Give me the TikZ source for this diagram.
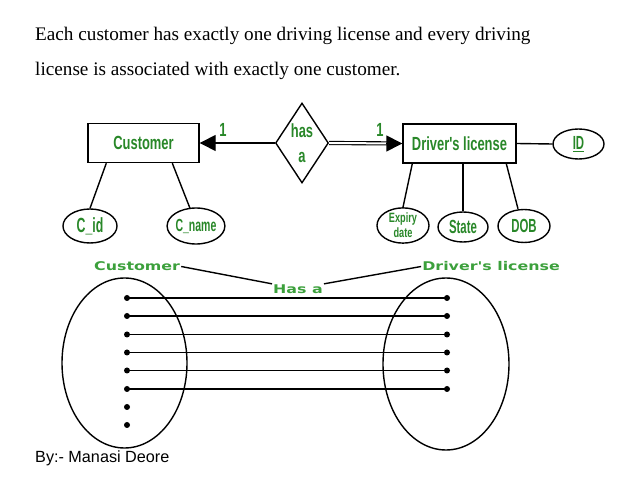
\documentclass[tikz,border=0pt]{standalone}
\usepackage{fontspec}
\setmainfont{Liberation Serif}
\newfontfamily\narrowsans[FakeStretch=0.68]{Liberation Sans}
\newfontfamily\attrsans[FakeStretch=0.6]{Liberation Sans}
\newfontfamily\widesans[FakeStretch=1.32]{DejaVu Sans}
\newfontfamily\plainsans{Liberation Sans}
\usetikzlibrary{shapes.geometric,arrows.meta,calc}
\definecolor{ergreen}{RGB}{40,135,40}
\definecolor{lgreen}{RGB}{60,160,60}
\tikzset{
  entity/.style={draw,line width=1.4pt,minimum width=111pt,minimum height=39pt,inner sep=0pt,font=\narrowsans\bfseries\fontsize{19}{21}\selectfont,text=ergreen},
  attr/.style={draw,line width=1.4pt,ellipse,inner sep=0pt,font=\attrsans\bfseries\fontsize{19}{20}\selectfont,text=ergreen},
  card/.style={font=\narrowsans\bfseries\fontsize{19}{20}\selectfont,text=ergreen},
  link/.style={line width=1.4pt},
  bigtip/.style={-{Triangle[length=16pt,width=16pt]}},
  setlabel/.style={font=\widesans\bfseries\fontsize{12}{13}\selectfont,text=lgreen,inner sep=1pt},
  dot/.style={circle,fill=black,inner sep=0pt,minimum size=6pt},
  title/.style={anchor=base west,inner sep=0pt,font=\fontsize{19.2}{22}\selectfont}
}
\begin{document}
\begin{tikzpicture}[x=1pt,y=-1pt]
\useasboundingbox (0,0) rectangle (638,478);
% title
\node[title] (t1) at (35,41) {Each customer has exactly one driving license and every driving};
\node[title] (t2) at (35,76) {license is associated with exactly one customer.};
% ER diagram
\node[entity] (cust) at (143.5,143) {Customer};
\node[entity,minimum width=113pt] (dl) at (459.5,143.5) {Driver's license};
\node[draw,line width=1.4pt,diamond,inner sep=0pt,minimum width=53pt,minimum height=80pt,aspect=0.66,font=\narrowsans\bfseries\fontsize{19}{25}\selectfont,text=ergreen,align=center] (has) at (302,143) {has\\a};
\draw[link,bigtip] (has.west) -- (cust.east);
\node[card] (c1) at (223,130) {1};
\draw[line width=1.1pt,double,double distance=2pt,shorten >=12pt] (has.east) -- (dl.west);
\coordinate (dltip) at ($(dl.west)+(-16,0)$);
\draw[link,bigtip] (dltip) -- (dl.west);
\node[card] (c2) at (380,130) {1};
\node[attr,minimum width=51pt,minimum height=30pt] (id) at (578.5,144) {\underline{ID}};
\draw[link] (dl.east) -- (id.west);
\node[attr,minimum width=54pt,minimum height=34pt,font=\attrsans\bfseries\fontsize{20.5}{20}\selectfont] (cid) at (90,226) {C\_id};
\node[attr,minimum width=48pt,minimum height=36pt,font=\attrsans\bfseries\fontsize{17.5}{18}\selectfont] (cname) at (196,226) {C\_name};
\draw[link] ($(cust.south west)+(19,0)$) -- (cid.north);
\draw[link] ($(cust.south west)+(85,0)$) -- ($(cname.north)+(-6,1)$);
\node[attr,minimum width=52pt,minimum height=31pt,align=center,font=\narrowsans\bfseries\fontsize{13.5}{15}\selectfont] (exp) at (403,225.5) {Expiry\\date};
\node[attr,minimum width=50pt,minimum height=30pt] (state) at (463,227) {State};
\node[attr,minimum width=52pt,minimum height=33pt] (dob) at (524,226) {DOB};
\draw[link] ($(dl.south west)+(10,0)$) -- (exp.north);
\draw[link] (dl.south -| state.north) -- (state.north);
\draw[link] ($(dl.south west)+(104,0)$) -- ($(dob.north)+(-6,0)$);
% set diagram
\node[setlabel,anchor=west] (sc) at (93,266.5) {Customer};
\node[setlabel] (sh) at (298,289.5) {Has a};
\node[setlabel,anchor=east] (sd) at (561,266.5) {Driver's license};
\draw[link] (sc.east) -- (sh.north west);
\draw[link] (sh.north east) -- (sd.west);
\node[draw,line width=1.4pt,ellipse,minimum width=125pt,minimum height=170pt] (setc) at (124.5,363) {};
\node[draw,line width=1.4pt,ellipse,minimum width=126pt,minimum height=172pt] (setd) at (446,364) {};
\foreach \i/\y in {1/298,2/316,3/334.5,4/352.5,5/370.5,6/389,7/407,8/425}{
  \node[dot] (l\i) at (127,\y) {};
}
\foreach \i/\y in {1/298,2/316,3/334.5,4/352.5,5/370.5,6/389}{
  \node[dot] (r\i) at (447,\y) {};
  \draw[line width=1.2pt] (l\i.center) -- (r\i.center);
}
\node[anchor=base west,inner sep=0pt,font=\plainsans\fontsize{16.2}{18}\selectfont] (by) at (35,463) {By:- Manasi Deore};
\end{tikzpicture}
\end{document}
